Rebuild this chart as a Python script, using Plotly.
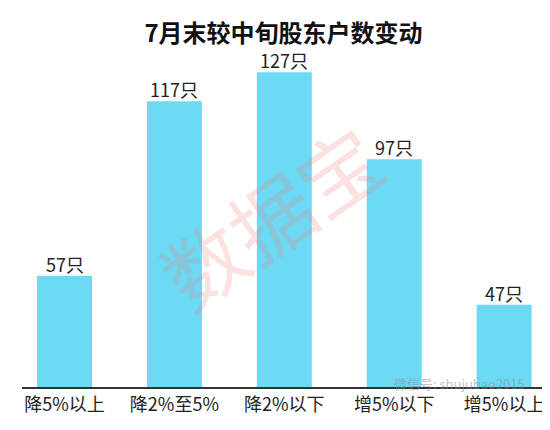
import plotly.graph_objects as go

# 数据
categories = ["降5%以上", "降2%至5%", "降2%以下", "增5%以下", "增5%以上"]
counts = [57, 117, 127, 97, 47]
labels = [f"{v}只" for v in counts]

font_cn = "Noto Sans CJK SC"

fig = go.Figure()

fig.add_trace(go.Bar(
    x=categories,
    y=counts,
    marker=dict(color="#6cdaf5", line=dict(width=0)),
    width=0.5,
))

# 柱顶标签，贴近柱子
for cat, v, lab in zip(categories, counts, labels):
    fig.add_annotation(
        x=cat, y=v, text=lab, showarrow=False,
        xanchor="center", yanchor="bottom", yshift=-3,
        font=dict(family=font_cn, size=18, color="#222222"),
    )

# 水印
fig.add_annotation(
    text="数据宝", x=0.474, y=0.48, xref="paper", yref="paper",
    showarrow=False, textangle=-35,
    font=dict(family=font_cn, size=82, color="rgba(240,120,120,0.22)"),
)
fig.add_annotation(
    text="微信号: shujubao2015", x=0.966, y=0.01, xref="paper", yref="paper",
    xanchor="right", yanchor="middle", showarrow=False,
    font=dict(family=font_cn, size=13, color="rgba(140,140,140,0.55)"),
)

# 页面有 8px 的 body 边距，所以图要小 8px
fig.update_layout(
    width=542,
    height=422,
    margin=dict(l=14, r=5, t=22, b=43),
    paper_bgcolor="white",
    plot_bgcolor="white",
    showlegend=False,
    title=dict(
        text="<b>7月末较中旬股东户数变动</b>",
        x=0.5, xref="paper", y=1 - 26 / 422, yref="container",
        xanchor="center", yanchor="middle",
        font=dict(family=font_cn, size=24, color="#111111"),
    ),
    xaxis=dict(
        range=[-0.387, 4.372],
        showline=True, linecolor="#333333", linewidth=2,
        showgrid=False, ticks="",
        tickfont=dict(family=font_cn, size=18, color="#222222"),
    ),
    yaxis=dict(
        range=[18.7, 141.5],
        visible=False, showgrid=False, zeroline=False,
    ),
)

fig.write_html("out.html")
